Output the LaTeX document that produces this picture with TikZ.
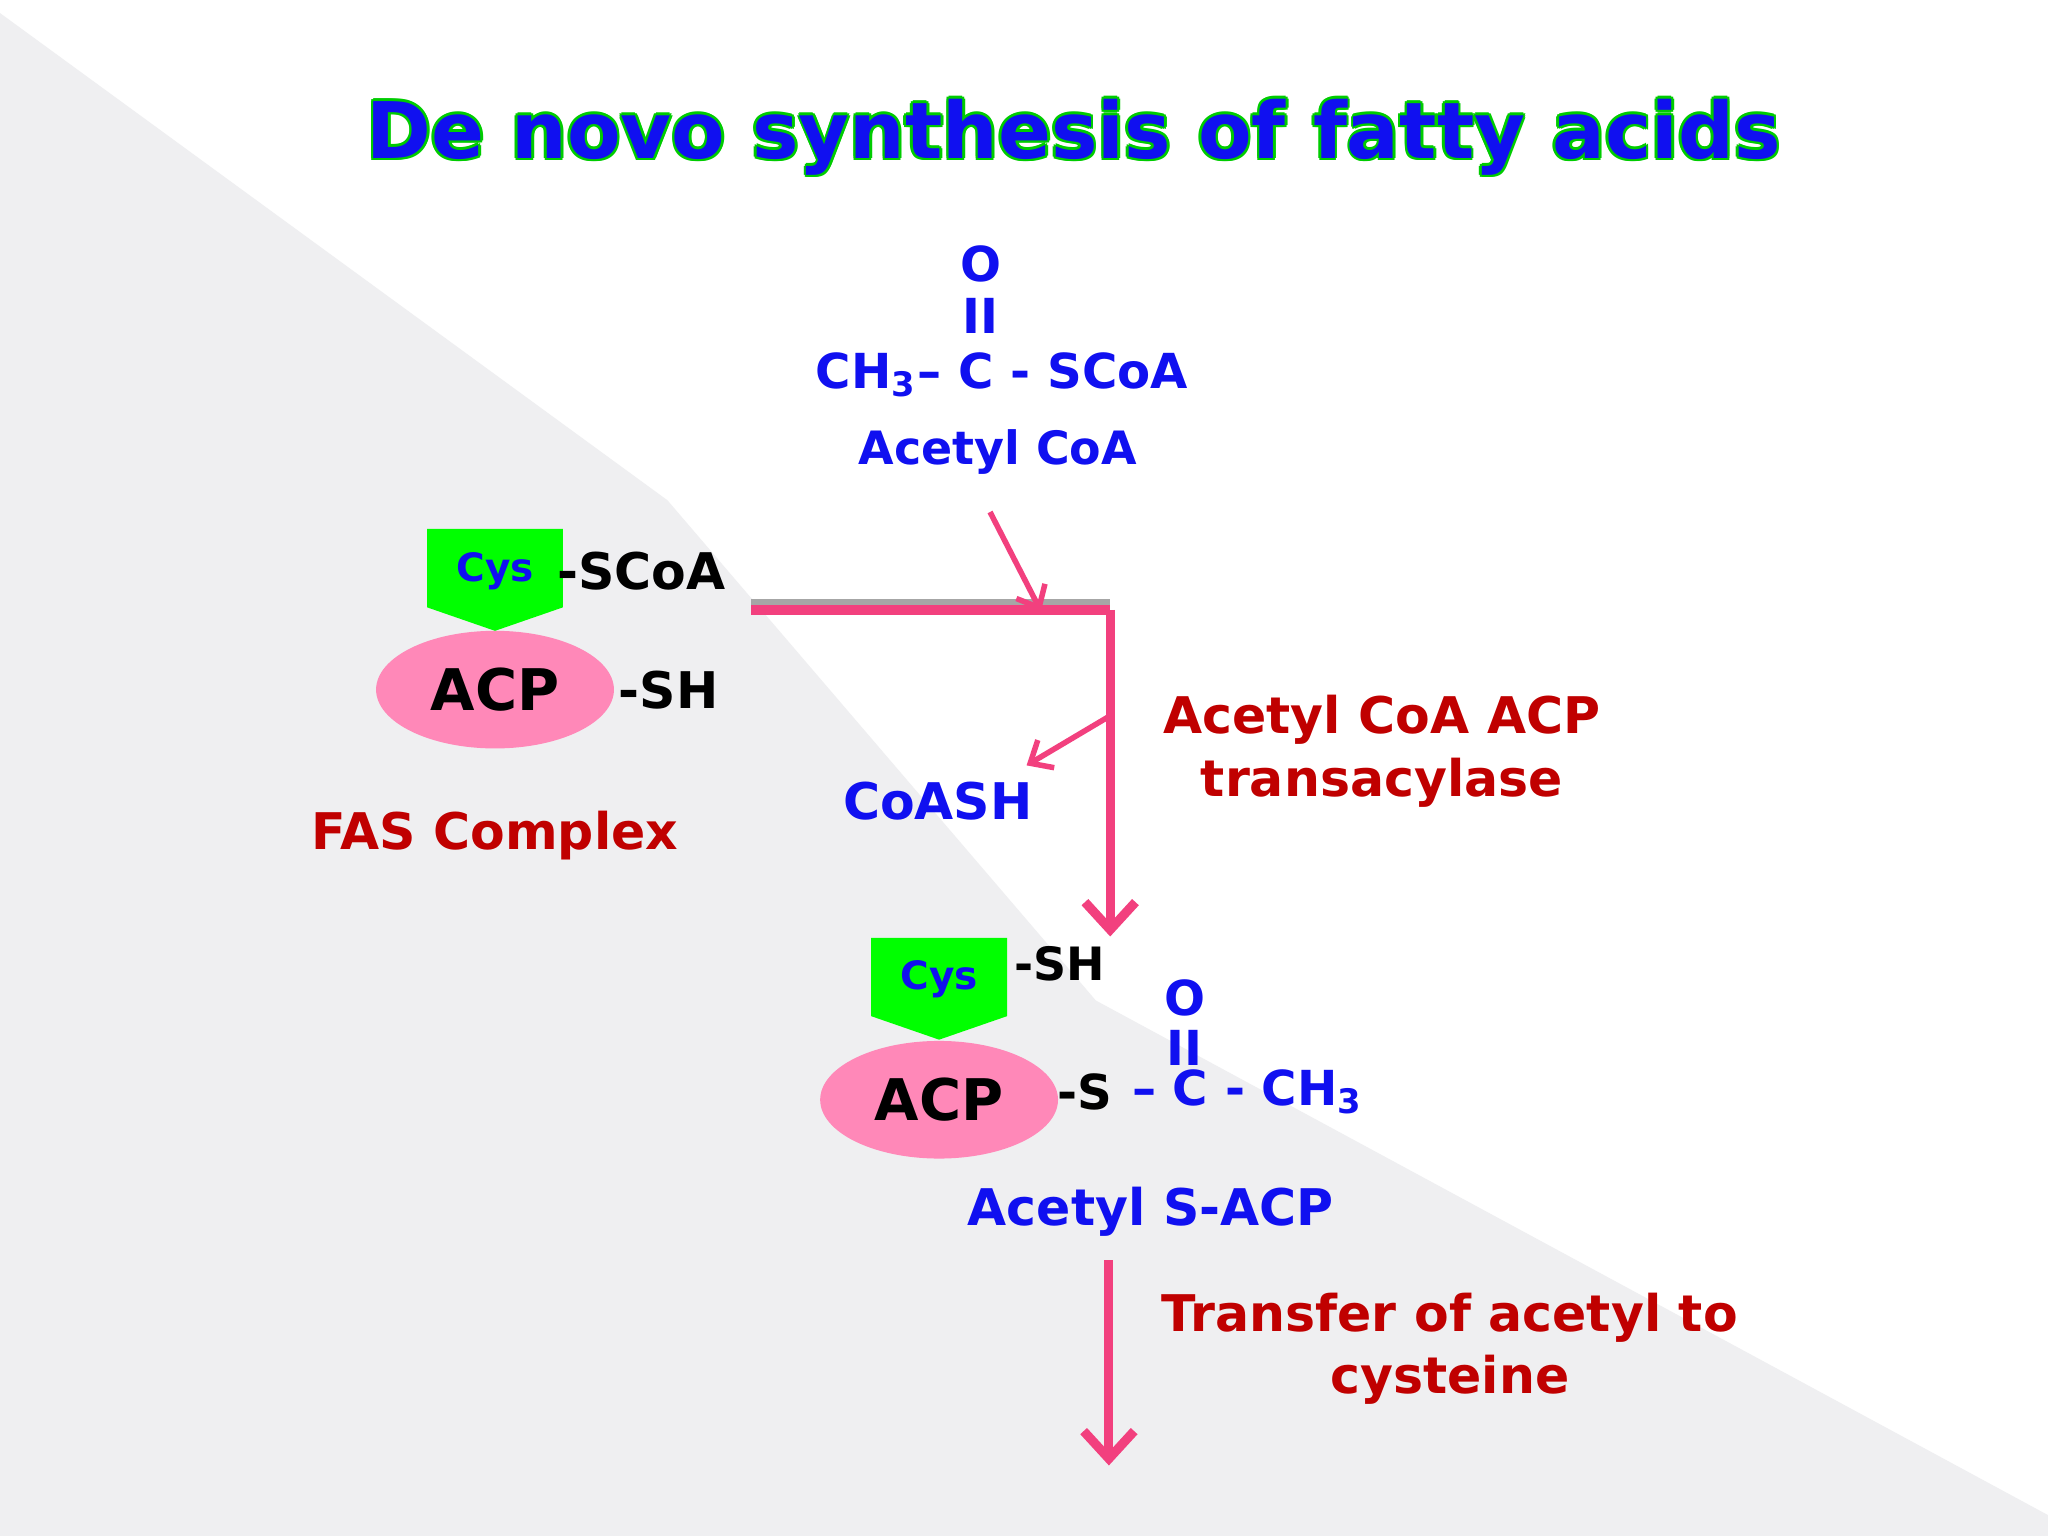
\documentclass[tikz,border=0pt]{standalone}
\usepackage{fontspec}
\setmainfont{DejaVu Sans}
\usetikzlibrary{arrows.meta,shapes.geometric}
\definecolor{pk}{HTML}{F2407E}
\definecolor{bl}{HTML}{1010F0}
\definecolor{dr}{HTML}{C00000}
\definecolor{gr}{HTML}{00FF00}
\definecolor{el}{HTML}{FF88B8}
\definecolor{bg}{HTML}{EFEFF1}
\tikzset{
 t/.style={font=\bfseries\fontsize{#1}{#1}\selectfont,inner sep=0pt},
 bt/.style={t=#1,text=bl},
 rt/.style={t=#1,text=dr},
 kt/.style={t=#1,text=black},
 pline/.style={pk,line width=2pt},
 bigtip/.style={-{Straight Barb[length=6pt,width=11pt,line width=2pt]}},
 parrow/.style={pk,line width=1.2pt,-{Straight Barb[length=4pt,width=7pt]}},
 cysbox/.style={fill=gr},
 acp/.style={ellipse,fill=el,minimum width=1.82cm,minimum height=0.9cm,t=12.5},
}
\begin{document}
\begin{tikzpicture}[x=0.01cm,y=-0.01cm]
\useasboundingbox (0,0) rectangle (1568,1176);
\fill[white] (0,0) rectangle (1568,1176);
\fill[bg] (0,10) -- (511,383) -- (839,766) -- (1568,1160) -- (1568,1176) -- (0,1176) -- cycle;
% title
\foreach \dx/\dy in {-2/0,2/0,0/-2,0/2,-1.5/-1.5,1.5/1.5,-1.5/1.5,1.5/-1.5}
  \node[t=17,text=green!80!black] at (822+\dx,105+\dy) {De novo synthesis of fatty acids};
\node[t=17,text=bl] (title) at (822,105) {De novo synthesis of fatty acids};
% acetyl CoA
\node[bt=10.5] (o1) at (751,202) {O};
\node[bt=10.5] (dd1) at (751,242) {II};
\node[bt=10.5,anchor=west] (ch3) at (624,287) {CH$_\mathbf{3}$– C - SCoA};
\node[bt=10] (acoa) at (764,346) {Acetyl CoA};
% FAS complex
\fill[cysbox] (327,405) -- (431,405) -- (431,465) -- (379,483) -- (327,465) -- cycle;
\node[bt=8.5] (cys1) at (379,437) {Cys};
\node[kt=11,anchor=west] (scoa) at (426,437) {-SCoA};
\node[acp] (acp1) at (379,528) {ACP};
\node[kt=11,anchor=west] (sh1) at (473,528) {-SH};
\node[rt=11] (fas) at (379,640) {FAS Complex};
% reaction lines
\coordinate (h0) at (575,467);
\coordinate (corner) at (850,467);
\coordinate (tip) at (850,717);
\coordinate (br) at (850,548);
\coordinate (a0) at (758,392);
\coordinate (a1) at (797,468);
\draw[gray!70,line width=2pt] (575,462) -- (850,462);
\draw[pline] (h0) -- (corner);
\draw[pline,bigtip] (corner) -- (tip);
\draw[parrow] (a0) -- (a1);
\node[bt=11] (coash) at (718,613) {CoASH};
\draw[parrow] (br) -- (786,586);
\node[rt=11] (enz1) at (1058,551) {Acetyl CoA ACP};
\node[rt=11] (enz2) at (1058,599) {transacylase};
% product
\fill[cysbox] (667,718) -- (771,718) -- (771,778) -- (719,796) -- (667,778) -- cycle;
\node[bt=8.5] (cys2) at (719,750) {Cys};
\node[kt=10,anchor=west] (sh2) at (776,738) {-SH};
\node[acp] (acp2) at (719,842) {ACP};
\node[bt=10.5] (o2) at (907,764) {O};
\node[bt=10.5] (dd2) at (907,802) {II};
\node[kt=10.5,anchor=west] (s2) at (809,836) {-S};
\node[bt=10.5,anchor=west] (rest) at (866,836) {– C - CH$_\mathbf{3}$};
\node[bt=11] (asacp) at (881,928) {Acetyl S-ACP};
\coordinate (b0) at (849,965);
\coordinate (b1) at (849,1122);
\draw[pline,bigtip] (b0) -- (b1);
\node[rt=11] (tr1) at (1110,1009) {Transfer of acetyl to};
\node[rt=11] (tr2) at (1110,1056) {cysteine};
\end{tikzpicture}
\end{document}
